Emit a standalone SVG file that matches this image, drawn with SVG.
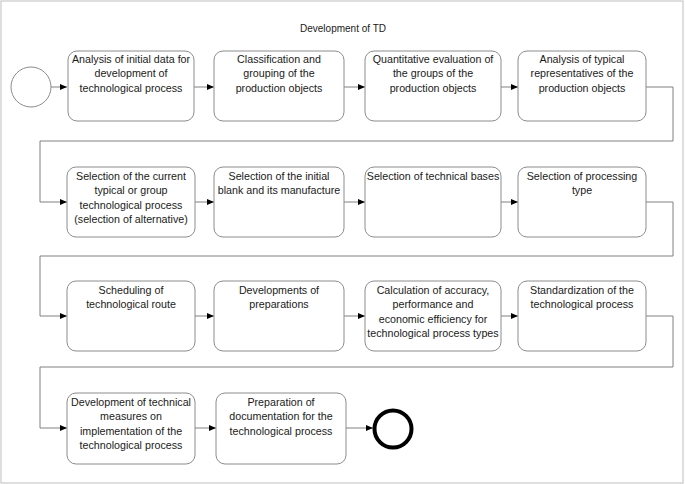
<svg xmlns="http://www.w3.org/2000/svg" width="685" height="484" viewBox="0 0 685 484">
<defs>
<marker id="arr" markerWidth="7" markerHeight="7" refX="7" refY="3.5" orient="auto" markerUnits="userSpaceOnUse">
<path d="M0,0.5 L7,3.5 L0,6.5 Z" fill="#000"/>
</marker>
<style>
.box{fill:#fff;stroke:#8c8c8c;stroke-width:1}
.t{font-family:"Liberation Sans",Arial,sans-serif;font-size:10.7px;fill:#1a1a1a;text-anchor:middle}
.c{fill:none;stroke:#808080;stroke-width:1}
.a{marker-end:url(#arr)}
</style>
</defs>
<rect x="1" y="1" width="682" height="482" fill="#fff" stroke="#c8c8c8" stroke-width="1.2"/>
<text class="t" x="343" y="32" style="font-size:10px">Development of TD</text>

<g id="connectors">
<path class="c a" d="M51,87 H67"/>
<path class="c a" d="M194,87 H214"/>
<path class="c a" d="M344,87 H365"/>
<path class="c a" d="M501,87 H518"/>
<path class="c a" d="M646,87 H673 V141 H40 V202 H67"/>
<path class="c a" d="M195,202 H214"/>
<path class="c a" d="M344,202 H365"/>
<path class="c a" d="M501,202 H518"/>
<path class="c a" d="M646,202 H673 V256 H40 V316 H67"/>
<path class="c a" d="M195,316 H214"/>
<path class="c a" d="M344,316 H365"/>
<path class="c a" d="M501,316 H518"/>
<path class="c a" d="M646,316 H673 V367 H40 V428 H67"/>
<path class="c a" d="M195,428 H216"/>
<path class="c a" d="M346,428 H373"/>
</g>

<g id="start"><circle cx="31" cy="87" r="20" fill="#fff" stroke="#8c8c8c" stroke-width="1"/></g>
<g id="end"><circle cx="393" cy="429" r="18.5" fill="#fff" stroke="#000" stroke-width="4"/></g>

<g id="n1"><rect class="box" x="68" y="51" width="126" height="70" rx="9"/>
<text class="t"><tspan x="131" y="63">Analysis of initial data for</tspan><tspan x="131" y="77.3">development of</tspan><tspan x="131" y="91.6">technological process</tspan></text></g>
<g id="n2"><rect class="box" x="214" y="51" width="130" height="70" rx="9"/>
<text class="t"><tspan x="279" y="63">Classification and</tspan><tspan x="279" y="77.3">grouping of the</tspan><tspan x="279" y="91.6">production objects</tspan></text></g>
<g id="n3"><rect class="box" x="365" y="51" width="136" height="70" rx="9"/>
<text class="t"><tspan x="433" y="63">Quantitative evaluation of</tspan><tspan x="433" y="77.3">the groups of the</tspan><tspan x="433" y="91.6">production objects</tspan></text></g>
<g id="n4"><rect class="box" x="518" y="51" width="128" height="70" rx="9"/>
<text class="t"><tspan x="582" y="63">Analysis of typical</tspan><tspan x="582" y="77.3">representatives of the</tspan><tspan x="582" y="91.6">production objects</tspan></text></g>

<g id="n5"><rect class="box" x="67" y="167" width="128" height="70" rx="9"/>
<text class="t"><tspan x="131" y="180">Selection of the current</tspan><tspan x="131" y="194.3">typical or group</tspan><tspan x="131" y="208.6">technological process</tspan><tspan x="131" y="222.9">(selection of alternative)</tspan></text></g>
<g id="n6"><rect class="box" x="214" y="167" width="130" height="70" rx="9"/>
<text class="t"><tspan x="279" y="180">Selection of the initial</tspan><tspan x="279" y="194.3">blank and its manufacture</tspan></text></g>
<g id="n7"><rect class="box" x="365" y="167" width="136" height="70" rx="9"/>
<text class="t"><tspan x="433" y="180">Selection of technical bases</tspan></text></g>
<g id="n8"><rect class="box" x="518" y="167" width="128" height="70" rx="9"/>
<text class="t"><tspan x="582" y="180">Selection of processing</tspan><tspan x="582" y="194.3">type</tspan></text></g>

<g id="n9"><rect class="box" x="67" y="281" width="128" height="70" rx="9"/>
<text class="t"><tspan x="131" y="294">Scheduling of</tspan><tspan x="131" y="308.3">technological route</tspan></text></g>
<g id="n10"><rect class="box" x="214" y="281" width="130" height="70" rx="9"/>
<text class="t"><tspan x="279" y="294">Developments of</tspan><tspan x="279" y="308.3">preparations</tspan></text></g>
<g id="n11"><rect class="box" x="365" y="281" width="136" height="70" rx="9"/>
<text class="t"><tspan x="433" y="294">Calculation of accuracy,</tspan><tspan x="433" y="308.3">performance and</tspan><tspan x="433" y="322.6">economic efficiency for</tspan><tspan x="433" y="336.9">technological process types</tspan></text></g>
<g id="n12"><rect class="box" x="518" y="281" width="128" height="70" rx="9"/>
<text class="t"><tspan x="582" y="294">Standardization of the</tspan><tspan x="582" y="308.3">technological process</tspan></text></g>

<g id="n13"><rect class="box" x="67" y="393" width="128" height="71" rx="9"/>
<text class="t"><tspan x="131" y="406">Development of technical</tspan><tspan x="131" y="420.3">measures on</tspan><tspan x="131" y="434.6">implementation of the</tspan><tspan x="131" y="448.9">technological process</tspan></text></g>
<g id="n14"><rect class="box" x="216" y="393" width="130" height="71" rx="9"/>
<text class="t"><tspan x="281" y="406">Preparation of</tspan><tspan x="281" y="420.3">documentation for the</tspan><tspan x="281" y="434.6">technological process</tspan></text></g>
</svg>
